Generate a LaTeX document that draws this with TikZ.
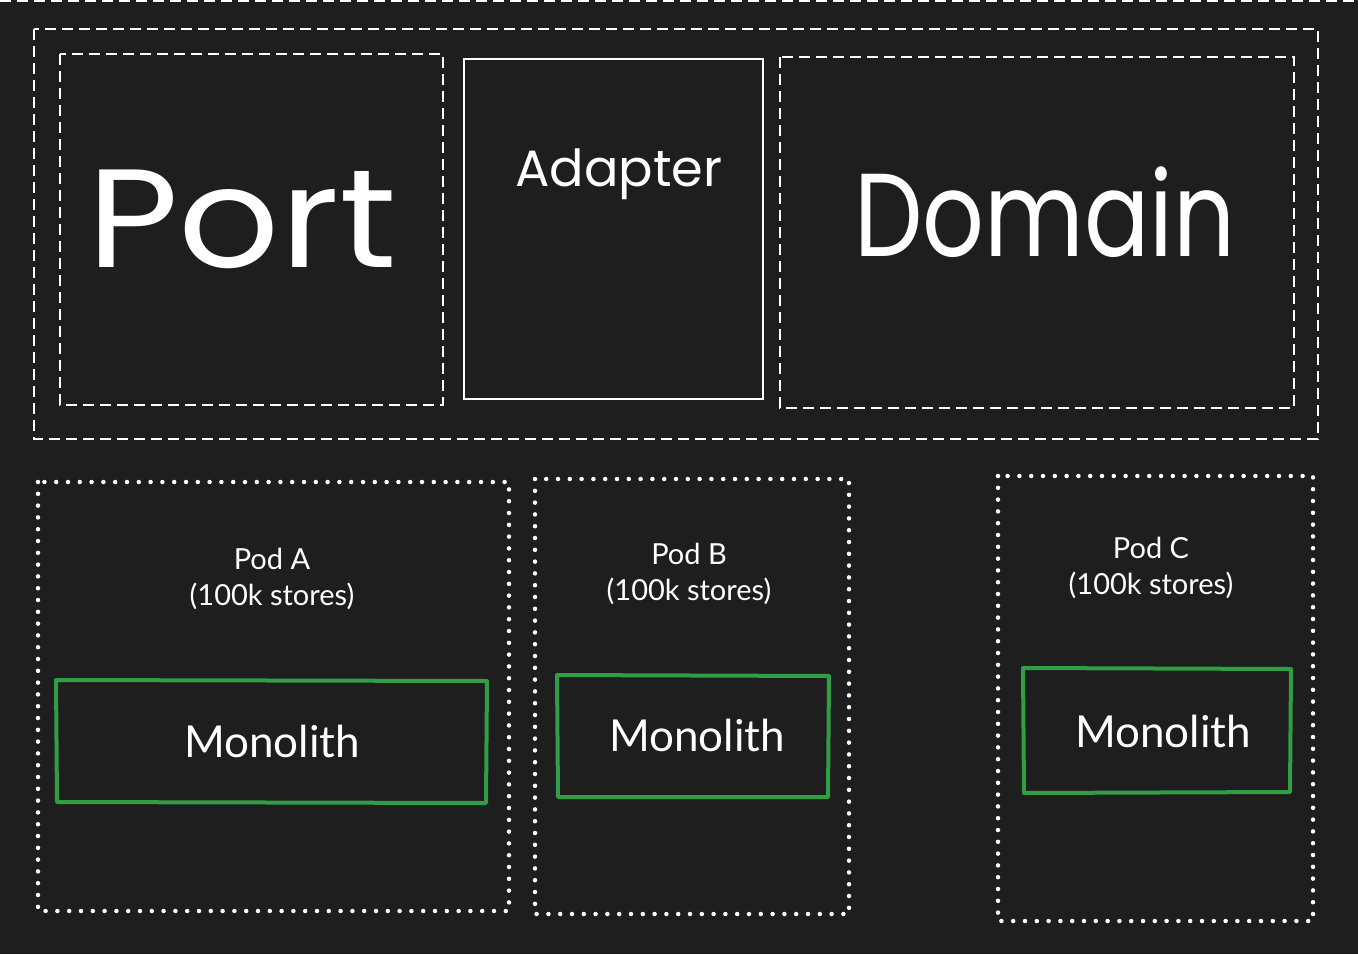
\documentclass[tikz,border=0pt]{standalone}
\usepackage{fontspec}
\setmainfont{Lato}
\newfontfamily\handfont{Poppins}
\definecolor{bg}{HTML}{1E1E1E}
\definecolor{mgreen}{HTML}{2F9E44}
\begin{document}
\begin{tikzpicture}[x=1pt,y=-1pt,
  dashbox/.style={draw=white,line width=1.6pt,dash pattern=on 11pt off 6pt},
  dotbox/.style={draw=white,line width=4.5pt,line cap=round,dash pattern=on 0pt off 11.8pt},
  solidbox/.style={draw=white,line width=1.4pt},
  monobox/.style={draw=mgreen,line width=4pt,line join=round},
  podtxt/.style={text=white,font=\fontsize{29}{36}\selectfont,align=center},
  monotxt/.style={text=white,font=\fontsize{44}{52}\selectfont},
  bigtxt/.style={text=white}]
\fill[bg] (0,0) rectangle (1358,954);
\useasboundingbox (0,0) rectangle (1358,954);
\coordinate (tl) at (0,1);
\coordinate (tr) at (1358,1);
\draw[dashbox] (tl) -- (tr);
% top group
\draw[dashbox] (34,29) rectangle (1318,439);
\draw[dashbox] (60,54) rectangle (443,405);
\draw[solidbox] (464,59) rectangle (763,399);
\draw[dashbox] (780,57) rectangle (1294,408);
\node[bigtxt,font=\handfont\fontsize{140}{150}\selectfont,xscale=1.13] (port) at (242,219) {Port};
\node[bigtxt,font=\handfont\fontsize{51}{60}\selectfont] (adapter) at (619,174) {Adapter};
\node[bigtxt,font=\handfont\fontsize{118}{130}\selectfont,xscale=0.82] (domain) at (1045,212) {Domain};
% pods
\draw[dotbox] (38,482) rectangle (509,911);
\draw[dotbox] (535,479) rectangle (849,914);
\draw[dotbox] (998,476) rectangle (1313,921);
\node[podtxt] (podA) at (272,579) {Pod A\\ (100k stores)};
\node[podtxt] (podB) at (689,574) {Pod B\\ (100k stores)};
\node[podtxt] (podC) at (1151,568) {Pod C\\ (100k stores)};
\draw[monobox] (56,680) -- (487,681) -- (486,803) -- (57,802) -- cycle;
\draw[monobox] (557,675) -- (829,676) -- (828,797) -- (558,797) -- cycle;
\draw[monobox] (1023,668) -- (1291,669) -- (1290,792) -- (1024,793) -- cycle;
\node[monotxt] (monoA) at (272,741) {Monolith};
\node[monotxt] (monoB) at (697,735) {Monolith};
\node[monotxt] (monoC) at (1163,731) {Monolith};
\end{tikzpicture}
\end{document}
